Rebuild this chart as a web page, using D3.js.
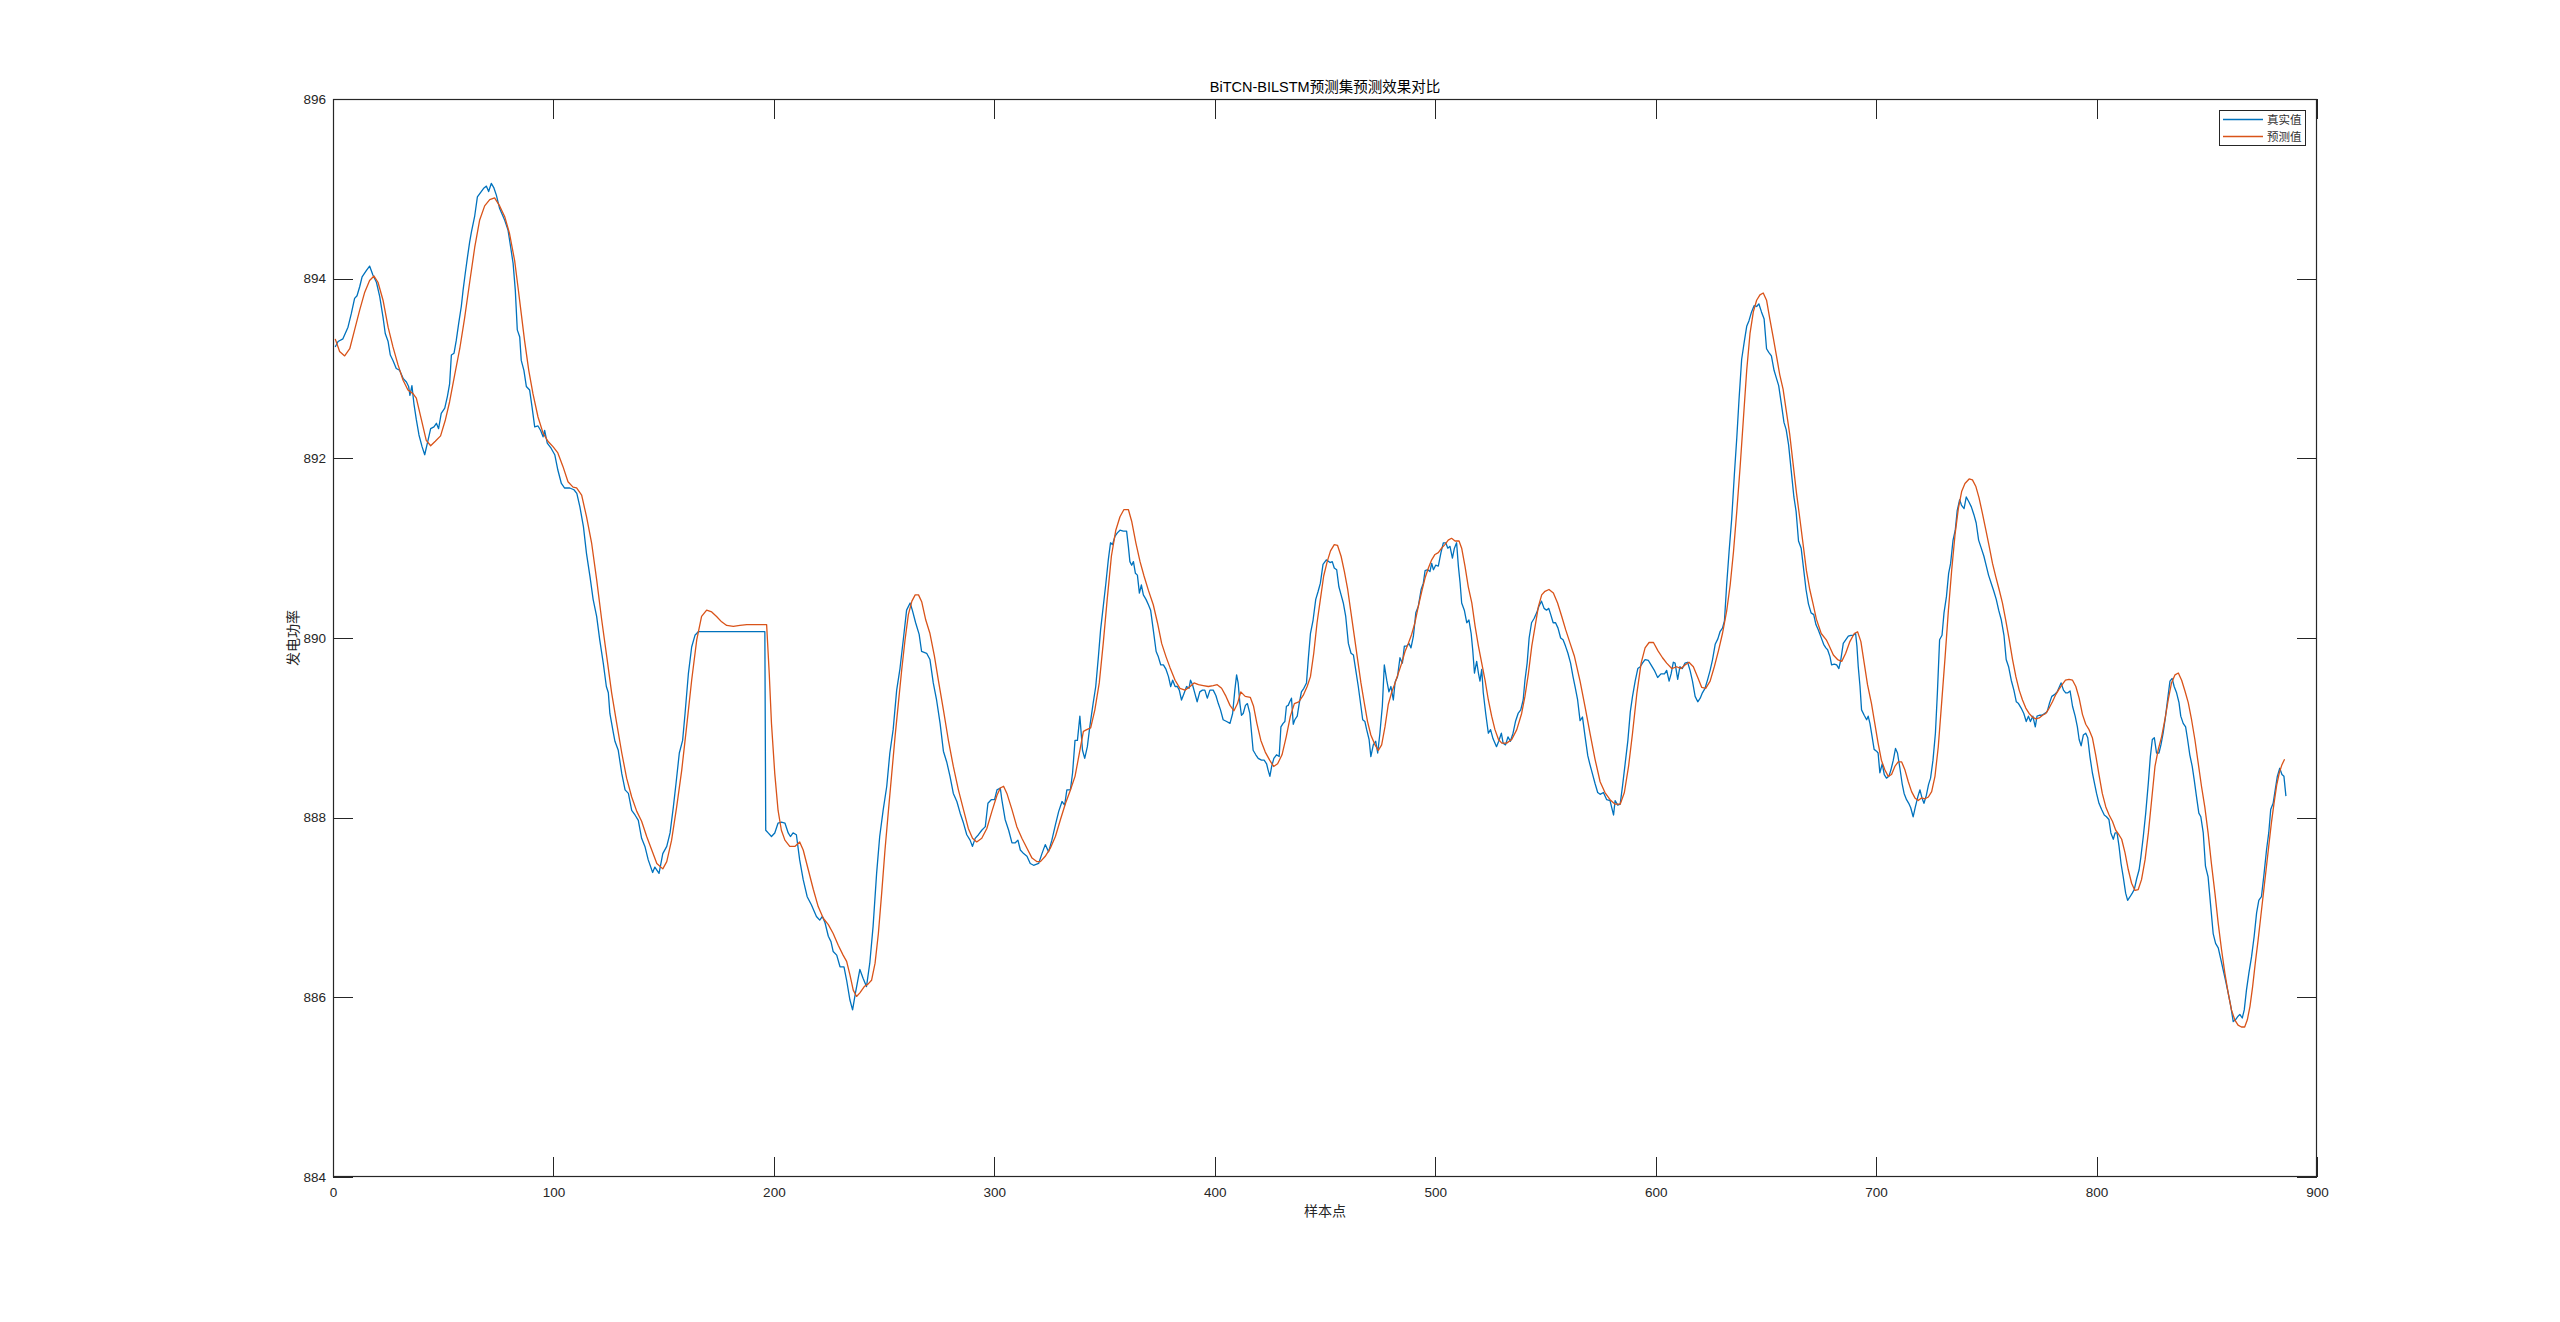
<!DOCTYPE html>
<html>
<head>
<meta charset="utf-8">
<script src="https://cdn.jsdelivr.net/npm/d3@7"></script>
<style>
  html, body { margin: 0; padding: 0; background: #ffffff; }
  svg { display: block; }
  text { font-family: "Liberation Sans", "Noto Sans CJK SC", sans-serif; fill: #262626; }
  .cjk { font-family: "Noto Sans CJK SC", sans-serif; }
</style>
</head>
<body>
<script>
// ---------------- data ----------------
const chartTitle = "BiTCN-BILSTM预测集预测效果对比";
const xLabel = "样本点";
const yLabel = "发电功率";
const seriesNames = ["真实值", "预测值"];
const xTicks = [0, 100, 200, 300, 400, 500, 600, 700, 800, 900];
const yTicks = [884, 886, 888, 890, 892, 894, 896];

// real values: [sample index, value]
const realPoints = [
[1,893.24],[2.3,893.30],[4.5,893.33],[6.8,893.46],[8.3,893.61],[9.8,893.78],[10.9,893.81],[12.1,893.91],[13.2,894.02],[15.1,894.09],
[16.6,894.14],[18.1,894.04],[19.7,893.96],[21.2,893.80],[22.7,893.57],[23.7,893.39],[25,893.30],[26,893.15],[27.2,893.09],[28.7,893.00],
[30.2,892.98],[31.8,892.89],[33.3,892.85],[34.3,892.80],[34.9,892.70],[35.8,892.81],[36.7,892.61],[37.8,892.43],[39,892.26],[40.4,892.13],
[41.6,892.04],[43.1,892.20],[44.3,892.33],[45.8,892.35],[46.9,892.39],[47.9,892.33],[49.1,892.50],[50.7,892.56],[51.9,892.69],[52.9,892.83],
[53.7,893.15],[54.9,893.17],[55.9,893.31],[57,893.50],[58.2,893.69],[59,893.87],[60,894.06],[61,894.24],[62,894.41],[62.8,894.52],
[64.3,894.70],[65.5,894.91],[67,894.96],[68.5,895.01],[69.6,895.03],[70.6,894.97],[71.8,895.06],[73,895.01],[74.1,894.93],[75.6,894.78],
[77.9,894.65],[79.4,894.54],[80.6,894.35],[81.7,894.17],[82.7,893.87],[83.6,893.43],[84.7,893.35],[85.4,893.09],[86.6,892.98],[87.7,892.80],
[89.2,892.76],[90.3,892.57],[91.5,892.35],[93,892.36],[94.2,892.31],[95.3,892.24],[96,892.31],[97.2,892.17],[99,892.11],[100.6,892.04],
[102,891.87],[103.6,891.72],[105,891.67],[107.4,891.67],[109.3,891.65],[110.6,891.61],[112,891.46],[113.6,891.24],[115,890.94],[116.6,890.68],
[118,890.43],[119.6,890.24],[121,889.98],[122.6,889.72],[124,889.46],[124.9,889.39],[125.6,889.16],[127.2,888.94],[127.9,888.85],[129.4,888.75],
[131,888.49],[132.5,888.31],[134,888.27],[135.5,888.08],[137,888.03],[138.5,887.97],[140,887.77],[141.5,887.68],[143,887.53],[145,887.39],
[146,887.45],[147.9,887.38],[149.6,887.60],[151.4,887.68],[152.9,887.83],[154.4,888.12],[155.6,888.38],[157.1,888.72],[158.6,888.86],[159.7,889.16],
[161.2,889.60],[162.7,889.90],[164.2,890.03],[165.7,890.07],[195.9,890.07],[196.3,887.86],[197.4,887.83],[198.9,887.79],[200.4,887.83],[201.9,887.94],
[203.4,887.95],[205,887.94],[206.5,887.83],[207.5,887.79],[208.7,887.83],[210.2,887.81],[211.7,887.53],[213.3,887.31],[215.1,887.12],[217,887.03],
[219.3,886.90],[220.8,886.86],[222,886.90],[223.2,886.83],[224.7,886.68],[225.9,886.62],[226.9,886.51],[228.5,886.47],[230,886.34],[231.8,886.34],
[233,886.19],[234.5,885.97],[235.7,885.86],[237,886.05],[239,886.31],[240.5,886.21],[242,886.12],[243.5,886.38],[245,886.79],[246.6,887.38],
[248,887.79],[249.6,888.09],[251.2,888.35],[252.6,888.72],[254.1,888.98],[255.7,889.42],[257.2,889.66],[258.7,889.98],[260.2,890.31],[261.8,890.39],
[262.8,890.31],[264.3,890.17],[265.9,890.04],[267,889.85],[269.3,889.83],[270.8,889.76],[272.3,889.50],[273.8,889.31],[275.4,889.05],[276.9,888.74],
[278.4,888.62],[279.9,888.46],[281.4,888.27],[283,888.18],[284.5,888.05],[286,887.94],[287.5,887.81],[289,887.75],[290.1,887.68],[291.3,887.77],
[292.8,887.81],[294.3,887.86],[295.9,887.90],[297.1,888.16],[298.6,888.20],[300.1,888.20],[301.2,888.31],[302.7,888.33],[303.4,888.20],[304.9,887.98],
[306.5,887.86],[308,887.72],[309.5,887.72],[310.7,887.75],[311.8,887.64],[313.3,887.60],[314.8,887.57],[316.3,887.49],[317.8,887.47],[320.1,887.49],
[321.6,887.60],[323.1,887.70],[324.6,887.62],[326.1,887.75],[327.7,887.92],[329.2,888.07],[330.7,888.18],[331.9,888.14],[332.9,888.31],[334.5,888.31],
[335.5,888.50],[336.6,888.86],[337.7,888.86],[338.8,889.13],[340,888.75],[341,888.66],[342.2,888.79],[343.3,889.01],[344.8,889.27],[346,889.46],
[347.2,889.79],[348.2,890.09],[349.4,890.35],[350.6,890.61],[351.7,890.87],[352.7,891.06],[353.6,891.04],[354.7,891.13],[355.8,891.17],[357,891.20],
[358.5,891.19],[360,891.19],[360.8,891.02],[361.5,890.85],[362.3,890.81],[363.1,890.85],[364,890.72],[364.9,890.70],[365.8,890.50],[366.7,890.59],
[367.6,890.48],[368.8,890.43],[369.9,890.37],[370.9,890.31],[372.1,890.09],[373.4,889.85],[374.4,889.79],[375.5,889.70],[376.7,889.70],[377.9,889.65],
[379,889.57],[380,889.46],[380.9,889.53],[382,889.46],[383,889.46],[383.9,889.42],[384.9,889.31],[386,889.38],[387.2,889.46],[388.3,889.44],
[389,889.53],[389.9,889.48],[391,889.38],[392,889.29],[393.2,889.40],[394.4,889.42],[395.5,889.42],[396.6,889.33],[397.8,889.42],[399.3,889.42],
[400.5,889.36],[401.6,889.27],[402.6,889.20],[403.8,889.09],[405.4,889.07],[406.9,889.05],[408.1,889.16],[409.1,889.42],[409.9,889.59],[410.6,889.50],
[411.4,889.27],[412.1,889.14],[412.9,889.16],[413.9,889.25],[414.8,889.27],[415.9,889.16],[416.7,888.94],[417.4,888.75],[418.6,888.70],[419.7,888.66],
[421.2,888.64],[422.4,888.64],[423.5,888.60],[424.2,888.53],[425,888.46],[425.8,888.57],[426.8,888.66],[428,888.70],[429.2,888.68],[430,889.01],
[431,889.05],[431.8,889.07],[432.5,889.24],[433.3,889.25],[434,889.29],[434.8,889.33],[435.6,889.04],[436.3,889.09],[437.4,889.13],[438.3,889.27],
[439.3,889.40],[440.4,889.44],[441.6,889.50],[442.5,889.79],[443.4,890.05],[444.6,890.20],[445.8,890.43],[446.9,890.52],[447.9,890.61],[449.1,890.82],
[450.6,890.87],[452.3,890.84],[453.3,890.85],[454.2,890.78],[455.3,890.76],[456.3,890.57],[457.3,890.48],[458.3,890.39],[459.4,890.24],[460.6,889.94],
[461.8,889.83],[462.9,889.81],[463.9,889.65],[465.1,889.46],[466.3,889.24],[467.1,889.09],[468.1,889.07],[468.9,888.98],[470,888.87],[470.8,888.68],
[471.9,888.81],[473,888.85],[473.9,888.72],[474.9,888.94],[476,889.24],[476.9,889.70],[478,889.53],[479,889.40],[479.9,889.46],[481,889.31],
[481.8,889.51],[482.9,889.57],[484,889.78],[485.1,889.72],[486,889.91],[487.1,889.91],[488.1,889.94],[489,889.89],[490.1,890.02],[491.2,890.28],
[492.3,890.35],[493.6,890.54],[494.6,890.61],[495.4,890.75],[496.6,890.76],[497.6,890.74],[498.4,890.83],[499.2,890.76],[500.2,890.81],[501.4,890.80],
[502.6,890.95],[503.7,891.06],[504.8,891.06],[505.7,891.00],[506.7,891.02],[507.8,890.89],[508.7,891.00],[509.7,891.06],[510.5,890.80],[511.3,890.61],
[512,890.39],[513.2,890.31],[514.3,890.17],[515.3,890.20],[516.3,890.05],[517,889.87],[517.8,889.61],[518.8,889.74],[519.6,889.61],[520.3,889.52],
[521.1,889.65],[521.8,889.39],[522.9,889.16],[524.1,888.94],[525.1,888.98],[526.2,888.88],[527.8,888.79],[528.8,888.85],[530,888.94],[530.8,888.83],
[531.9,888.81],[533,888.90],[534.1,888.85],[535.3,888.94],[536.4,889.07],[537.6,889.16],[538.8,889.20],[539.9,889.31],[540.7,889.53],[541.7,889.72],
[542.6,890.00],[543.7,890.17],[544.9,890.22],[546,890.28],[547,890.35],[548.2,890.41],[549.4,890.33],[550.5,890.31],[551.5,890.33],[552.4,890.26],
[553.5,890.17],[554.6,890.17],[555.7,890.11],[556.9,890.00],[558,889.98],[559.1,889.91],[560.2,889.83],[561.4,889.72],[562.5,889.57],[563.5,889.45],
[564.6,889.31],[565.7,889.08],[566.8,889.12],[568,888.90],[569.2,888.69],[570.2,888.59],[571.3,888.49],[572.5,888.38],[573.7,888.28],[574.8,888.26],
[576.3,888.28],[577.8,888.20],[579.3,888.19],[580.1,888.11],[580.9,888.03],[581.6,888.19],[582.8,888.14],[583.9,888.15],[585,888.36],[586.2,888.61],
[587.4,888.86],[588.5,889.18],[589.5,889.35],[590.7,889.52],[591.9,889.66],[593,889.68],[594,889.72],[595.2,889.76],[596.7,889.75],[597.9,889.70],
[599.4,889.64],[600.9,889.56],[602.4,889.60],[604,889.60],[605,889.64],[606.1,889.52],[607,889.60],[608,889.73],[608.8,889.72],[610,889.54],
[611,889.68],[612.1,889.66],[613.3,889.72],[614.5,889.73],[615.6,889.64],[616.7,889.52],[617.9,889.35],[619.1,889.29],[620.2,889.33],[621.2,889.39],
[622.4,889.44],[623.6,889.54],[624.7,889.64],[625.8,889.76],[627,889.93],[628.2,889.99],[629.2,890.07],[630.3,890.11],[631.2,890.19],[632.2,890.59],
[633.3,890.96],[634.5,891.33],[635.7,891.82],[636.8,892.23],[637.8,892.65],[639,893.10],[640.2,893.30],[641.3,893.47],[642.3,893.53],[643.5,893.63],
[644.7,893.70],[645.8,893.69],[646.8,893.72],[648,893.63],[649.2,893.55],[650.3,893.22],[651.3,893.18],[652.5,893.14],[653.7,892.98],[654.8,892.89],
[655.8,892.81],[657,892.61],[658.2,892.40],[659.2,892.32],[660.3,892.15],[661.5,891.86],[662.7,891.57],[663.7,891.41],[664.8,891.08],[666,891.00],
[667.2,890.75],[668.2,890.54],[669.3,890.38],[670.5,890.28],[671.7,890.26],[672.7,890.15],[673.8,890.09],[675,890.01],[676.2,889.93],[677.2,889.89],
[678,889.87],[679.1,889.79],[679.8,889.70],[681,889.71],[682.1,889.70],[683.1,889.66],[684,889.76],[685.1,889.94],[686.2,889.98],[687.4,890.02],
[688.6,890.03],[689.6,890.03],[690.7,890.05],[691.3,889.91],[691.9,889.68],[692.7,889.46],[693.4,889.20],[694.6,889.14],[695.7,889.09],[696.4,889.13],
[697.2,889.05],[698.2,888.90],[699.1,888.76],[700.2,888.74],[700.9,888.72],[701.7,888.50],[702.8,888.60],[703.7,888.48],[704.7,888.44],[705.8,888.46],
[706.7,888.53],[707.8,888.64],[708.8,888.77],[709.7,888.72],[710.8,888.55],[711.8,888.38],[712.7,888.27],[713.8,888.20],[714.8,888.16],[715.7,888.11],
[716.8,888.01],[717.8,888.12],[719,888.24],[719.9,888.31],[720.8,888.22],[721.7,888.16],[722.8,888.25],[723.8,888.37],[724.7,888.44],[725.8,888.64],
[726.9,888.94],[727.8,889.39],[728.8,889.98],[729.9,890.03],[730.8,890.28],[731.9,890.46],[732.9,890.72],[733.8,890.83],[734.9,891.09],[735.9,891.20],
[736.8,891.42],[737.9,891.54],[738.7,891.48],[739.9,891.44],[740.9,891.57],[742,891.52],[743.2,891.46],[744.4,891.37],[745.4,891.28],[746.5,891.09],
[747.7,891.00],[748.9,890.91],[750,890.80],[751,890.70],[752.2,890.61],[753.4,890.52],[754.5,890.43],[755.6,890.31],[756.8,890.20],[758,890.03],
[759,889.76],[760.1,889.68],[761.3,889.53],[762.5,889.42],[763.6,889.29],[764.6,889.27],[765.8,889.22],[767,889.16],[768.1,889.07],[769.1,889.13],
[770,889.07],[771.1,889.13],[772.2,889.01],[773,889.13],[774.1,889.14],[775.2,889.14],[776.4,889.16],[777.6,889.18],[778.6,889.27],[779.7,889.35],
[780.9,889.37],[782.1,889.40],[783.2,889.46],[783.9,889.50],[785,889.42],[786,889.39],[787,889.39],[788,889.41],[789.1,889.24],[790.3,889.13],
[791.3,889.01],[792.1,888.87],[793,888.80],[794,888.92],[795.1,888.94],[796,888.89],[797,888.68],[798.1,888.50],[799,888.39],[800,888.27],
[801.1,888.16],[802.3,888.09],[803.5,888.03],[804.5,888.01],[805.6,887.98],[806.5,887.83],[807.6,887.76],[808.4,887.83],[809.3,887.83],[810.2,887.68],
[811.1,887.49],[812.1,887.34],[813.2,887.16],[814.1,887.08],[815.2,887.12],[816.2,887.16],[817.1,887.20],[818.2,887.32],[819.3,887.42],[820.1,887.56],
[821.2,887.79],[822.3,888.05],[823.5,888.39],[824.4,888.68],[825.3,888.87],[826.2,888.89],[827.2,888.72],[828.3,888.72],[829.2,888.81],[830.2,888.94],
[831.3,889.13],[832.2,889.31],[833.3,889.52],[834.3,889.55],[835.2,889.46],[836.3,889.39],[837.4,889.28],[838.2,889.13],[839.3,889.05],[840.4,889.01],
[841.3,888.87],[842.3,888.70],[843.4,888.57],[844.3,888.42],[845.3,888.24],[846.4,888.05],[847.3,888.01],[848.4,887.83],[849.4,887.46],[850.6,887.34],
[851.8,887.01],[852.9,886.71],[854,886.60],[855.2,886.55],[856.4,886.42],[857.4,886.31],[858.5,886.19],[859.7,886.05],[860.9,885.90],[862,885.73],
[863,885.75],[864.2,885.79],[865,885.81],[866.1,885.77],[867,885.86],[868,886.08],[869.1,886.27],[870.3,886.45],[871.5,886.68],[872.6,886.94],
[873.6,887.08],[874.8,887.12],[876,887.38],[877.1,887.64],[878.1,887.83],[879,888.09],[880.1,888.16],[880.8,888.27],[882,888.46],[883.1,888.55],
[884.1,888.48],[885,888.46],[885.9,888.24]
];

// predicted values: [sample index, value]
const predPoints = [
[1,893.33],[3,893.19],[5.3,893.14],[7.6,893.22],[9.8,893.43],[12.1,893.65],[14.4,893.85],[16.6,893.98],[18.6,894.03],[20.4,893.96],
[22.7,893.76],[25,893.46],[27.2,893.24],[29.5,893.04],[31.8,892.87],[34,892.76],[36.3,892.72],[37.8,892.67],[40.1,892.43],[42.3,892.20],
[44.3,892.14],[46.4,892.19],[48.8,892.25],[51,892.43],[52.9,892.63],[55.2,892.93],[57.5,893.22],[59.7,893.56],[62,893.96],[64.3,894.35],
[66.5,894.65],[68.8,894.81],[71.1,894.88],[73.3,894.90],[75.6,894.81],[77.9,894.69],[80.1,894.50],[82.4,894.20],[83.9,893.91],[85.4,893.61],
[86.9,893.31],[88.8,892.98],[90.7,892.72],[93,892.46],[95.3,892.28],[97.5,892.19],[99.8,892.13],[102,892.06],[104.3,891.91],[106.6,891.74],
[108.9,891.68],[110.5,891.67],[112.8,891.59],[115,891.35],[117.3,891.06],[119.6,890.65],[121.9,890.20],[124.2,889.79],[126.4,889.39],[128.7,889.05],
[131,888.72],[133.2,888.44],[135.5,888.23],[137.8,888.07],[140,887.96],[142.3,887.79],[144.6,887.64],[146.9,887.49],[149.6,887.43],[151.4,887.51],
[153.6,887.75],[155.9,888.12],[158.2,888.53],[160.4,889.01],[162.7,889.53],[165,889.98],[167.2,890.24],[169.5,890.31],[171.8,890.29],[174,890.24],
[176.3,890.18],[178.6,890.14],[181.6,890.13],[184.6,890.14],[187.7,890.15],[196.7,890.15],[197.9,889.60],[198.9,889.05],[200.4,888.49],[201.9,888.08],
[203.4,887.86],[205,887.75],[207.2,887.68],[209.5,887.68],[211.7,887.73],[213.3,887.64],[215.6,887.42],[217.9,887.20],[220.1,887.01],[222.4,886.88],
[224.7,886.81],[226.9,886.71],[229.2,886.58],[231.4,886.47],[233,886.40],[234.5,886.25],[236,886.08],[237.5,886.01],[239,886.05],[241,886.12],
[242.8,886.15],[244.3,886.19],[245.9,886.38],[247.4,886.71],[248.9,887.16],[250.4,887.64],[252,888.09],[253.5,888.50],[255,888.91],[256.5,889.28],
[258,889.65],[259.5,889.98],[261,890.26],[262.6,890.41],[264.1,890.48],[265.6,890.48],[267.1,890.40],[268.9,890.20],[270.8,890.05],[272.8,889.80],
[274.6,889.53],[276.9,889.20],[279.1,888.87],[281.4,888.57],[283.7,888.31],[286,888.09],[288.2,887.88],[290.1,887.77],[292,887.73],[294.3,887.77],
[296.6,887.88],[298.9,888.07],[301.2,888.25],[302.7,888.33],[304.2,888.35],[305.7,888.27],[308,888.09],[310.2,887.90],[312.5,887.77],[314.8,887.66],
[317.1,887.55],[319.4,887.51],[320.9,887.51],[323.1,887.57],[325.4,887.66],[327.7,887.79],[330,887.98],[332.3,888.16],[334.4,888.30],[336.6,888.46],
[338.6,888.72],[340.4,888.96],[341.9,888.98],[343.7,889.00],[345.6,889.20],[347.6,889.50],[349.4,889.94],[351.2,890.43],[353.1,890.91],[355.1,891.20],
[357,891.35],[358.8,891.43],[360.8,891.43],[362.3,891.30],[364.2,891.06],[366.1,890.85],[367.9,890.69],[369.9,890.53],[372.1,890.37],[374,890.17],
[375.9,889.94],[377.9,889.79],[379.7,889.67],[382,889.53],[384.2,889.44],[386.5,889.42],[388.8,889.46],[390.6,889.50],[392.6,889.48],[394.8,889.47],
[397.1,889.46],[399.3,889.47],[401.1,889.48],[403.1,889.44],[405.1,889.35],[406.9,889.25],[408.7,889.19],[410.3,889.27],[411.8,889.40],[413.8,889.35],
[416.1,889.34],[417.6,889.24],[419.1,889.05],[420.9,888.86],[422.9,888.73],[424.9,888.64],[426.7,888.57],[428.5,888.60],[430.5,888.70],[432.4,888.90],
[434.3,889.13],[436.1,889.27],[438.1,889.29],[440.1,889.36],[441.9,889.46],[443.4,889.57],[444.9,889.83],[446.4,890.17],[447.9,890.43],[449.4,890.69],
[451,890.85],[452.5,890.97],[454.2,891.04],[455.7,891.03],[457.3,890.91],[458.8,890.74],[460.3,890.54],[461.8,890.28],[463.3,890.02],[464.8,889.76],
[466.3,889.50],[467.8,889.28],[469.3,889.07],[470.8,888.92],[472.7,888.81],[474.2,888.75],[475.7,888.81],[477.2,889.01],[478.7,889.26],[480.3,889.40],
[481.8,889.50],[483.3,889.61],[484.8,889.72],[486.3,889.85],[487.8,889.94],[489.3,890.04],[490.8,890.17],[492.3,890.35],[493.9,890.52],[495.4,890.67],
[496.9,890.78],[498.4,890.87],[499.9,890.93],[501.4,890.95],[502.9,891.00],[504.4,891.04],[505.9,891.09],[507.4,891.11],[509,891.08],[510.8,891.08],
[512,891.00],[513.5,890.80],[515,890.57],[516.6,890.39],[518.1,890.13],[519.6,889.91],[521.1,889.72],[522.6,889.53],[524.1,889.31],[525.6,889.13],
[527.1,888.98],[528.7,888.87],[530.2,888.83],[532.4,888.83],[534.7,888.87],[537,888.98],[539.2,889.16],[540.7,889.35],[542.3,889.61],[543.8,889.91],
[545.3,890.13],[546.8,890.35],[548.3,890.48],[549.8,890.52],[551.6,890.54],[553.6,890.50],[555.5,890.39],[557.4,890.24],[559.2,890.09],[561.2,889.94],
[563.1,889.80],[565.7,889.52],[568,889.23],[570.2,888.94],[572.5,888.65],[574.8,888.40],[577,888.28],[579.3,888.20],[581.6,888.15],[583.9,888.15],
[585.8,888.28],[587.7,888.57],[589.5,888.94],[591.5,889.39],[593.4,889.72],[595.2,889.89],[597,889.95],[599,889.95],[601,889.86],[603.1,889.78],
[605,889.72],[607.3,889.66],[609.5,889.68],[611.5,889.66],[613.3,889.70],[615.1,889.73],[617.1,889.68],[619.1,889.56],[620.9,889.45],[622.7,889.44],
[624.7,889.52],[626.6,889.68],[628.5,889.86],[630.3,890.05],[632.2,890.30],[633.8,890.59],[635.3,890.96],[636.8,891.41],[638.3,891.90],[639.8,892.44],
[641.3,892.98],[642.8,893.39],[644.3,893.63],[645.8,893.76],[647.3,893.82],[648.8,893.84],[650.3,893.76],[651.8,893.55],[653.3,893.35],[654.8,893.14],
[656.3,892.93],[657.8,892.77],[659.3,892.52],[660.8,892.27],[662.3,891.95],[663.9,891.61],[665.4,891.33],[666.9,891.04],[668.4,890.75],[669.9,890.54],
[671.4,890.38],[672.9,890.21],[675.1,890.05],[677.4,889.98],[678.6,889.92],[680.6,889.81],[682.5,889.76],[684.4,889.74],[686.2,889.83],[688.1,889.96],
[690.1,890.05],[691.6,890.07],[693.1,889.96],[694.6,889.72],[696.1,889.48],[697.9,889.27],[699.4,889.05],[700.9,888.83],[702.4,888.64],[704,888.53],
[705.5,888.46],[707,888.48],[708.5,888.57],[710,888.62],[711.6,888.62],[713.1,888.53],[714.6,888.40],[716.1,888.29],[717.6,888.22],[719.1,888.19],
[720.6,888.22],[722.2,888.21],[723.7,888.23],[725.2,888.29],[726.7,888.46],[728.2,888.79],[729.7,889.27],[731.3,889.79],[732.8,890.31],[734.3,890.76],
[735.8,891.15],[737.3,891.44],[738.8,891.63],[740.3,891.72],[742.2,891.77],[743.7,891.76],[745.2,891.69],[746.7,891.56],[748.2,891.39],[749.8,891.20],
[751.3,891.02],[752.8,890.83],[754.3,890.68],[755.8,890.54],[757.3,890.39],[758.8,890.20],[760.4,889.98],[761.9,889.76],[763.4,889.57],[764.9,889.42],
[766.4,889.31],[767.9,889.22],[769.4,889.16],[770.9,889.12],[772.5,889.10],[774,889.11],[775.5,889.14],[777,889.16],[778.5,889.22],[780,889.29],
[781.5,889.37],[783,889.43],[784.4,889.48],[785.9,889.53],[787.5,889.54],[789.1,889.53],[790.6,889.46],[792.1,889.33],[793.6,889.15],[795.1,889.04],
[796.6,888.98],[798.1,888.89],[799.6,888.70],[801.1,888.48],[802.6,888.27],[804.2,888.12],[805.7,888.03],[807.2,887.96],[808.7,887.86],[809.9,887.82],
[811.4,887.76],[812.9,887.61],[814.4,887.42],[815.9,887.27],[817.4,887.19],[818.9,887.20],[820.4,887.31],[822,887.53],[823.5,887.83],[825,888.20],
[826.5,888.57],[828,888.76],[829.5,888.90],[831,889.09],[832.5,889.31],[834,889.50],[835.6,889.59],[837.1,889.61],[838.6,889.53],[840.1,889.41],
[841.6,889.28],[843.1,889.09],[844.6,888.87],[846.1,888.61],[847.6,888.35],[849.1,888.12],[850.6,887.83],[852.1,887.49],[853.7,887.16],[855.2,886.82],
[856.7,886.53],[858.2,886.27],[859.7,886.05],[861.2,885.86],[862.7,885.75],[864.2,885.69],[865.7,885.67],[867.2,885.67],[868.4,885.75],[869.6,885.90],
[870.8,886.12],[872,886.38],[873.3,886.64],[874.5,886.90],[875.7,887.16],[876.9,887.42],[878.1,887.68],[879.3,887.94],[880.5,888.16],[881.7,888.36],
[882.9,888.50],[884.1,888.59],[885.3,888.65]
];

const seriesColors = ["#0072BD", "#D95319"];

// ---------------- layout ----------------
const W = 2560, H = 1322;
const plot = { left: 333, right: 2317, top: 99, bottom: 1177 };
const tickLen = 20;

const svg = d3.select("body").append("svg")
  .attr("width", W).attr("height", H)
  .attr("viewBox", `0 0 ${W} ${H}`);

svg.append("rect").attr("width", W).attr("height", H).attr("fill", "#ffffff");

const x = d3.scaleLinear().domain([0, 900]).range([plot.left, plot.right]);
const y = d3.scaleLinear().domain([884, 896]).range([plot.bottom, plot.top]);

// lines
const line = d3.line().x(d => x(d[0])).y(d => y(d[1]));

svg.append("path").datum(realPoints)
  .attr("d", line).attr("fill", "none")
  .attr("stroke", seriesColors[0]).attr("stroke-width", 1.3)
  .attr("stroke-linejoin", "round");

svg.append("path").datum(predPoints)
  .attr("d", line).attr("fill", "none")
  .attr("stroke", seriesColors[1]).attr("stroke-width", 1.3)
  .attr("stroke-linejoin", "round");

// axes (ticks inside, box on)
const axColor = "#262626";
function styleAxis(g) {
  g.select(".domain").remove();
  g.selectAll(".tick line").attr("stroke", axColor).attr("stroke-width", 1).attr("shape-rendering", "crispEdges");
  g.selectAll(".tick text").attr("fill", axColor).style("font-size", "13.5px")
    .style("font-family", '"Liberation Sans", Arial, sans-serif');
}

svg.append("g").attr("transform", `translate(0,${plot.bottom})`)
  .call(d3.axisBottom(x).tickValues(xTicks).tickSize(-tickLen).tickPadding(10).tickFormat(d3.format("d")))
  .call(styleAxis);
svg.append("g").attr("transform", `translate(0,${plot.top})`)
  .call(d3.axisTop(x).tickValues(xTicks).tickSize(-tickLen).tickFormat(""))
  .call(styleAxis);
svg.append("g").attr("transform", `translate(${plot.left},0)`)
  .call(d3.axisLeft(y).tickValues(yTicks).tickSize(-tickLen).tickPadding(7).tickFormat(d3.format("d")))
  .call(styleAxis);
svg.append("g").attr("transform", `translate(${plot.right},0)`)
  .call(d3.axisRight(y).tickValues(yTicks).tickSize(-tickLen).tickFormat(""))
  .call(styleAxis);

// frame
svg.append("rect")
  .attr("x", plot.left + 0.5).attr("y", plot.top + 0.5)
  .attr("width", plot.right - plot.left - 1).attr("height", plot.bottom - plot.top - 1)
  .attr("fill", "none").attr("stroke", axColor).attr("stroke-width", 1.2);

// title
svg.append("text")
  .attr("x", (plot.left + plot.right) / 2).attr("y", 92)
  .attr("text-anchor", "middle")
  .style("font-size", "14.5px")
  .style("fill", "#000")
  .text(chartTitle);

// axis labels
svg.append("text").attr("class", "cjk")
  .attr("x", (plot.left + plot.right) / 2).attr("y", 1216)
  .attr("text-anchor", "middle")
  .style("font-size", "14px")
  .text(xLabel);

svg.append("text").attr("class", "cjk")
  .attr("transform", `translate(298,${(plot.top + plot.bottom) / 2}) rotate(-90)`)
  .attr("text-anchor", "middle")
  .style("font-size", "14px")
  .text(yLabel);

// legend
const lg = svg.append("g").attr("transform", "translate(2219,110)");
lg.append("rect").attr("x", 0.5).attr("y", 0.5).attr("width", 86).attr("height", 35)
  .attr("fill", "#ffffff").attr("stroke", axColor).attr("stroke-width", 1);
seriesNames.forEach((name, i) => {
  const yy = 9.5 + i * 17;
  lg.append("line").attr("x1", 4).attr("x2", 44).attr("y1", yy).attr("y2", yy)
    .attr("stroke", seriesColors[i]).attr("stroke-width", 1.3);
  lg.append("text").attr("class", "cjk")
    .attr("x", 48).attr("y", yy).attr("dy", "0.36em")
    .style("font-size", "11.5px").style("fill", "#333")
    .text(name);
});
</script>
</body>
</html>
